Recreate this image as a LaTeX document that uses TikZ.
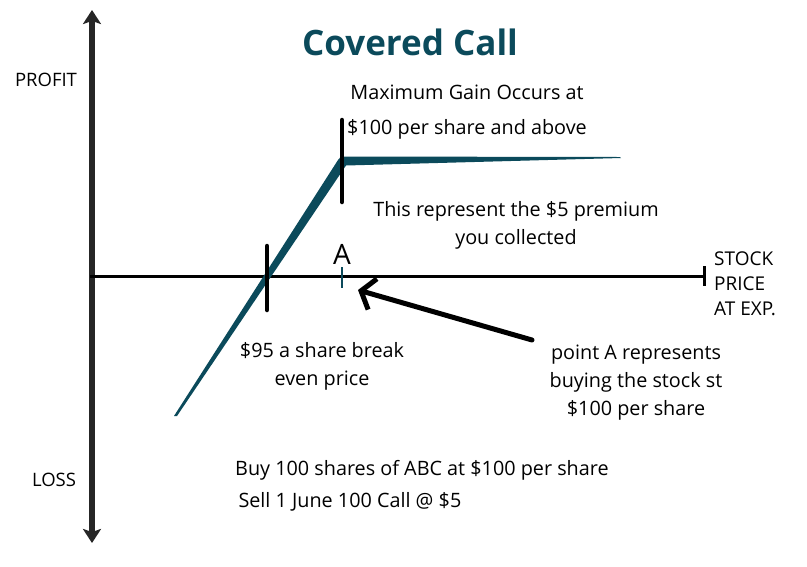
\documentclass[tikz,border=0pt]{standalone}
\usepackage{fontspec}
\setmainfont{Open Sans}
\usetikzlibrary{arrows.meta}
\definecolor{callteal}{HTML}{0B4A5B}
\tikzset{
  axis/.style={line width=5.5pt, draw=black!85},
  txt/.style={font=\fontsize{19.8}{28}\selectfont, align=center, inner sep=0pt},
  marker/.style={line width=4.5pt, line cap=round},
}
\begin{document}
\begin{tikzpicture}[x=1pt,y=-1pt]
    \useasboundingbox (0,0) rectangle (807,566);

    % Axes
    \coordinate (ytop) at (92,10);
    \coordinate (ybot) at (92,543);
    \coordinate (xleft) at (90,276);
    \coordinate (xright) at (706,276);
    \draw[axis, {Stealth[length=14pt,width=18pt,inset=3pt]}-{Stealth[length=14pt,width=18pt,inset=3pt]}] (ytop) -- (ybot);
    \draw[line width=3pt, -{Bar[width=20pt,line width=3pt]}] (xleft) -- (xright);
    \node[txt, font=\fontsize{18.5}{20}\selectfont] (profit) at (46,80) {PROFIT};
    \node[txt, font=\fontsize{18.5}{20}\selectfont] (loss) at (54,480) {LOSS};
    \node[txt, align=left, anchor=west, font=\fontsize{19}{25}\selectfont] (stock) at (714,284) {STOCK\\PRICE\\AT EXP.};

    % Title
    \node[txt, font=\fontsize{35}{38}\bfseries\selectfont, text=callteal] (title) at (410,42) {Covered Call};

    % Payoff line
    \fill[callteal] (174,416) -- (338,160) -- (341,156.5) -- (620,157) -- (621,158)
        -- (346,165.5) -- (177,416) -- cycle;

    % Markers
    \draw[marker] (342,120) -- (342,202);
    \draw[marker] (267,246) -- (267,310);
    \draw[callteal, line width=2pt] (342,267) -- (342,288);
    \node[txt, font=\fontsize{28}{30}\selectfont] (pointA) at (342,254) {A};

    % Labels
    \node[txt, font=\fontsize{19.8}{35}\selectfont] (maxgain) at (467,112) {Maximum Gain Occurs at\\\$100 per share and above};
    \node[txt] (premium) at (516,225) {This represent the \$5 premium\\you collected};
    \node[txt] (breakeven) at (322,366) {\$95 a share break\\even price};
    \node[txt] (buyA) at (636,383) {point A represents\\buying the stock st\\\$100 per share};
    \node[txt, align=left, anchor=west, font=\fontsize{19.8}{32}\selectfont] (trade) at (235,486) {Buy 100 shares of ABC at \$100 per share\\\,Sell 1 June 100 Call @ \$5};

    % Arrow to point A
    \coordinate (arrowtail) at (532,340);
    \coordinate (arrowtip) at (358,290);
    \draw[line width=5pt, line cap=round, -{Straight Barb[length=12pt,width=32pt,line width=5pt]}] (arrowtail) -- (arrowtip);
\end{tikzpicture}
\end{document}
